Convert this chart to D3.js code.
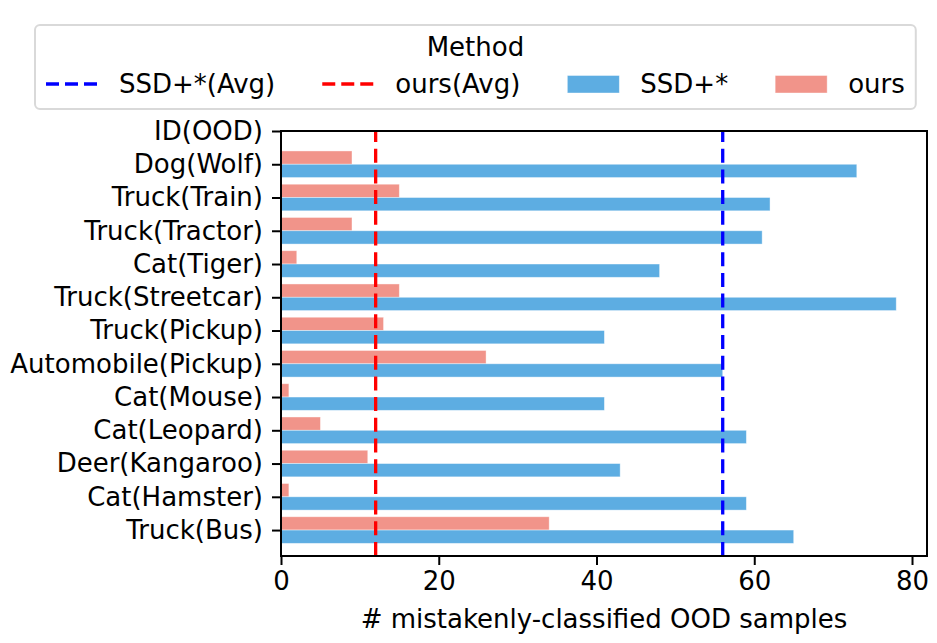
<!DOCTYPE html>
<html>
<head>
<meta charset="utf-8">
<script src="https://cdn.jsdelivr.net/npm/d3@7"></script>
<style>
  body { margin: 0; background: #fff; }
  svg text { font-family: "DejaVu Sans", sans-serif; fill: #000; }
</style>
</head>
<body>
<div id="chart"></div>
<script>
// categories, bottom to top (ID(OOD) is the top tick only)
var categories = ["Truck(Bus)", "Cat(Hamster)", "Deer(Kangaroo)", "Cat(Leopard)", "Cat(Mouse)",
                  "Automobile(Pickup)", "Truck(Pickup)", "Truck(Streetcar)", "Cat(Tiger)",
                  "Truck(Tractor)", "Truck(Train)", "Dog(Wolf)"];
var topLabel = "ID(OOD)";

var ssd_values  = [65, 59, 43, 59, 41, 56, 41, 78, 48, 61, 62, 73];
var ours_values = [34, 1, 11, 5, 1, 26, 13, 15, 2, 9, 15, 9];

var ssd_avg  = 56;
var ours_avg = 12;

var x_ticks = [0, 20, 40, 60, 80];
var x_label = "# mistakenly-classified OOD samples";
var legend_title = "Method";

var blue_bar = "#5DADE2", pink_bar = "#F1948A";

var W = 937, H = 643;
var plotLeft = 281, plotRight = 927, plotTop = 131, plotBottom = 556;
var fs = 26;

var svg = d3.select("#chart").append("svg")
    .attr("width", W).attr("height", H);

var x = d3.scaleLinear().domain([0, 78 * 1.05]).range([plotLeft, plotRight]);
var y = d3.scaleLinear().domain([-0.78, 12]).range([plotBottom, plotTop]);
var barH = y(0) - y(0.4);

// bars
svg.append("g").selectAll("rect")
    .data(ours_values)
    .enter().append("rect")
    .attr("x", x(0))
    .attr("y", function(d, i) { return y(i + 0.4); })
    .attr("width", function(d) { return x(d) - x(0); })
    .attr("height", barH)
    .attr("fill", pink_bar)
    .attr("stroke", "#fff").attr("stroke-opacity", 0.5).attr("stroke-width", 0.8);

svg.append("g").selectAll("rect")
    .data(ssd_values)
    .enter().append("rect")
    .attr("x", x(0))
    .attr("y", function(d, i) { return y(i); })
    .attr("width", function(d) { return x(d) - x(0); })
    .attr("height", barH)
    .attr("fill", blue_bar)
    .attr("stroke", "#fff").attr("stroke-opacity", 0.5).attr("stroke-width", 0.8);

// average lines (drawn bottom to top so the dash starts at the x axis)
function avgLine(v, col) {
    svg.append("line")
        .attr("x1", x(v)).attr("x2", x(v))
        .attr("y1", plotBottom).attr("y2", plotTop)
        .attr("stroke", col)
        .attr("stroke-width", 3.3)
        .attr("stroke-dasharray", "14,6.7");
}
avgLine(ours_avg, "#ff0000");
avgLine(ssd_avg, "#0000ff");

// frame
svg.append("rect")
    .attr("x", plotLeft).attr("y", plotTop)
    .attr("width", plotRight - plotLeft).attr("height", plotBottom - plotTop)
    .attr("fill", "none").attr("stroke", "#000").attr("stroke-width", 2);

// x axis
var xAxis = d3.axisBottom(x).tickValues(x_ticks).tickSize(9).tickPadding(7).tickFormat(d3.format("d"));
var gx = svg.append("g").attr("transform", "translate(0," + plotBottom + ")").call(xAxis);
gx.select(".domain").remove();
gx.selectAll("line").attr("stroke-width", 2);
gx.selectAll("text").attr("font-size", fs).style("font-family", "DejaVu Sans");

// y axis
var yAxis = d3.axisLeft(y)
    .tickValues(d3.range(categories.length + 1))
    .tickFormat(function(i) { return i < categories.length ? categories[i] : topLabel; })
    .tickSize(9).tickPadding(9);
var gy = svg.append("g").attr("transform", "translate(" + plotLeft + ",0)").call(yAxis);
gy.select(".domain").remove();
gy.selectAll("line").attr("stroke-width", 2);
gy.selectAll("text").attr("font-size", fs).style("font-family", "DejaVu Sans");

// x label
svg.append("text")
    .attr("x", (plotLeft + plotRight) / 2).attr("y", 628)
    .attr("text-anchor", "middle")
    .attr("font-size", fs)
    .text(x_label);

// legend
var leg = svg.append("g");
var box = leg.append("rect")
    .attr("x", 35).attr("y", 25).attr("rx", 5).attr("ry", 5)
    .attr("height", 84)
    .attr("fill", "#fff").attr("stroke", "#d9d9d9").attr("stroke-width", 2);

var items = [
    { label: "SSD+*(Avg)", kind: "line", color: "#0000ff" },
    { label: "ours(Avg)",  kind: "line", color: "#ff0000" },
    { label: "SSD+*",      kind: "patch", color: blue_bar },
    { label: "ours",       kind: "patch", color: pink_bar }
];
var cx = 46, rowY = 84;
items.forEach(function(it) {
    if (it.kind == "line") {
        leg.append("line")
            .attr("x1", cx).attr("x2", cx + 52)
            .attr("y1", rowY).attr("y2", rowY)
            .attr("stroke", it.color).attr("stroke-width", 3.3)
            .attr("stroke-dasharray", "13,6");
    } else {
        leg.append("rect")
            .attr("x", cx).attr("y", rowY - 8.5)
            .attr("width", 52).attr("height", 17.5)
            .attr("fill", it.color)
            .attr("stroke", "#fff").attr("stroke-opacity", 0.5).attr("stroke-width", 0.8);
    }
    var t = leg.append("text")
        .attr("x", cx + 73).attr("y", rowY)
        .attr("dy", "0.36em")
        .attr("font-size", fs)
        .text(it.label);
    cx = cx + 73 + t.node().getComputedTextLength() + 47;
});
var boxRight = cx - 47 + 11;
box.attr("width", boxRight - 35);

leg.append("text")
    .attr("x", (35 + boxRight) / 2).attr("y", 47)
    .attr("dy", "0.36em")
    .attr("text-anchor", "middle")
    .attr("font-size", fs)
    .text(legend_title);
</script>
</body>
</html>
